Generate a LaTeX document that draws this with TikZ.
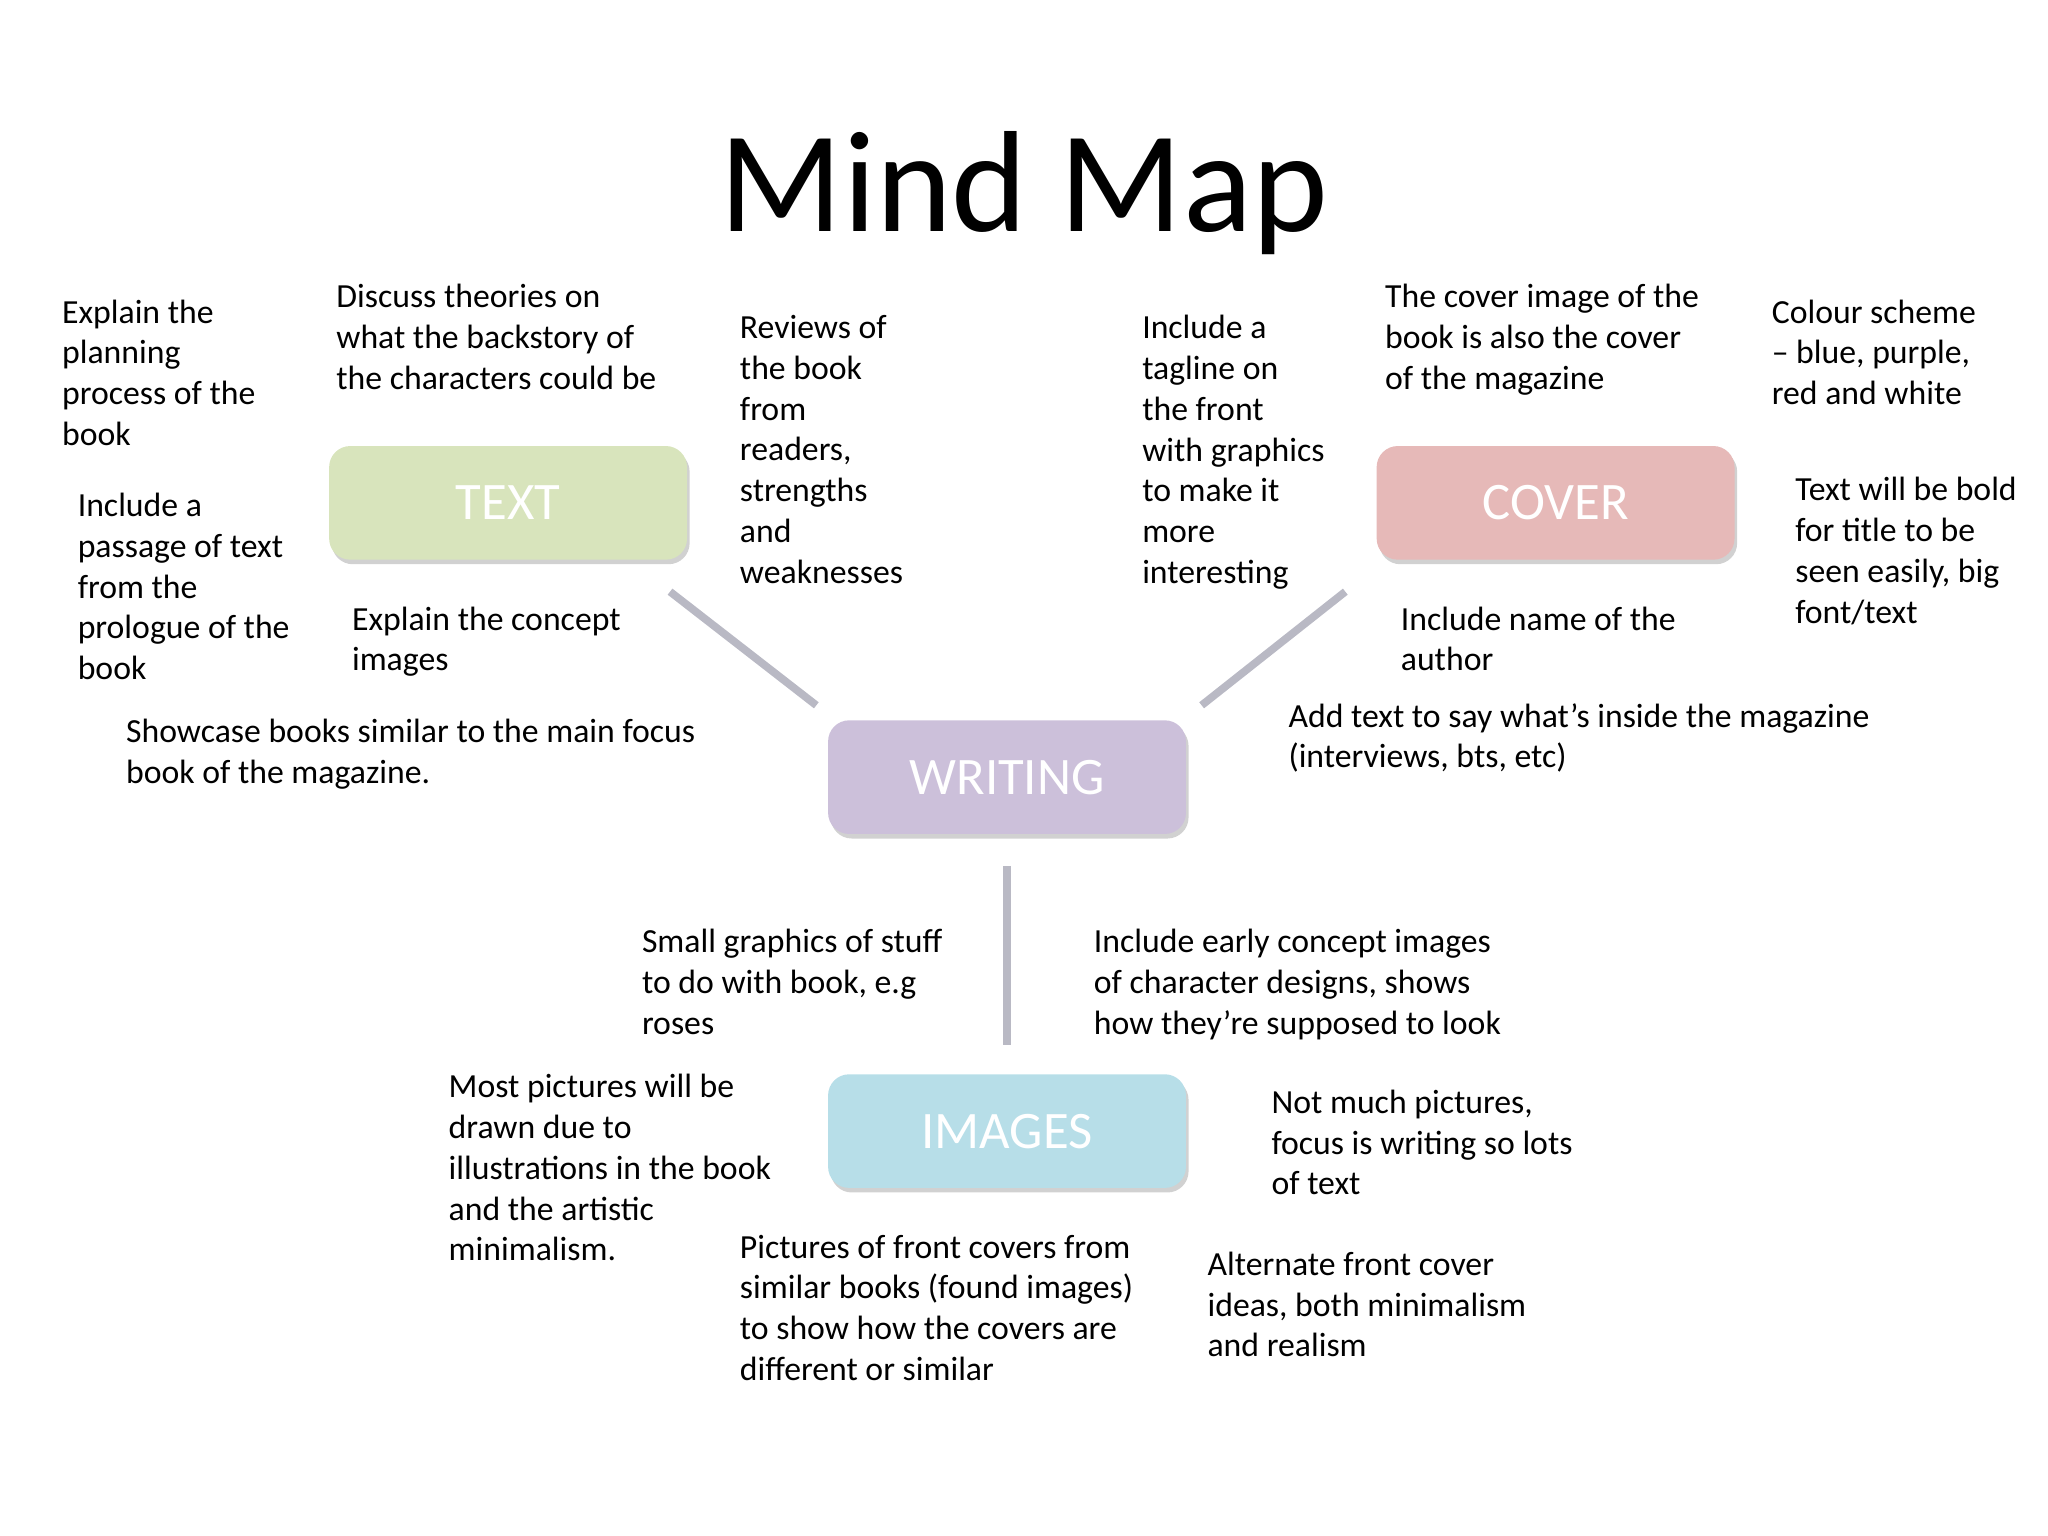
\documentclass[tikz,border=0pt]{standalone}
\usepackage{fontspec}
\setmainfont{Carlito}
\begin{document}
\begin{tikzpicture}[x=0.01306cm,y=-0.01306cm,
 t/.style={anchor=north west,inner sep=0pt,align=left,font=\fontsize{9.6pt}{11.6pt}\selectfont},
 box/.style={rounded corners=5pt,minimum width=274\pgflinewidth,text=white,font=\fontsize{15pt}{18pt}\selectfont,drop shadow},
 ln/.style={line width=2.2pt,draw=black!10!blue!10!gray!50}]
\useasboundingbox (0,0) rectangle (1568,1176);
\node[font=\fontsize{41pt}{48pt}\selectfont] (title) at (784,148) {Mind Map};
\foreach \n/\x/\y/\c/\s in {tb/389/385/D8E4BC/TEXT,cb/1191/385/E6B9B8/COVER,wb/771/595/CCC0DA/WRITING,ib/771/866/B7DEE8/IMAGES}{
 \definecolor{c\n}{HTML}{\c}
 \fill[black!18,rounded corners=6pt] (\x-135,\y-40) rectangle (\x+139,\y+47);
 \node[fill=c\n,rounded corners=6pt,minimum width=274*0.01306cm,minimum height=87*0.01306cm,text=white,font=\fontsize{15pt}{18pt}\selectfont,inner sep=0pt] (\n) at (\x,\y) {\s};
}
\coordinate (a1) at (513,453); \coordinate (a2) at (625,540);
\coordinate (b1) at (1030,453); \coordinate (b2) at (920,540);
\coordinate (c1) at (771,663); \coordinate (c2) at (771,800);
\draw[ln] (a1)--(a2); \draw[ln] (b1)--(b2); \draw[ln] (c1)--(c2);
\node[t] (n1) at (47,229) {Explain the\\planning\\process of the\\book};
\node[t] (n2) at (257,217) {Discuss theories on\\what the backstory of\\the characters could be};
\node[t] (n3) at (566,241) {Reviews of\\the book\\from\\readers,\\strengths\\and\\weaknesses};
\node[t] (n4) at (874,241) {Include a\\tagline on\\the front\\with graphics\\to make it\\more\\interesting};
\node[t] (n5) at (1060,217) {The cover image of the\\book is also the cover\\of the magazine};
\node[t] (n6) at (1356,229) {Colour scheme\\– blue, purple,\\red and white};
\node[t] (n7) at (59,377) {Include a\\passage of text\\from the\\prologue of the\\book};
\node[t] (n8) at (1374,365) {Text will be bold\\for title to be\\seen easily, big\\font/text};
\node[t] (n9) at (269,464) {Explain the concept\\images};
\node[t] (n10) at (1072,464) {Include name of the\\author};
\node[t] (n11) at (96,550) {Showcase books similar to the main focus\\book of the magazine.};
\node[t] (n12) at (986,538) {Add text to say what’s inside the magazine\\(interviews, bts, etc)};
\node[t] (n13) at (491,711) {Small graphics of stuff\\to do with book, e.g\\roses};
\node[t] (n14) at (837,711) {Include early concept images\\of character designs, shows\\how they’re supposed to look};
\node[t] (n15) at (343,822) {Most pictures will be\\drawn due to\\illustrations in the book\\and the artistic\\minimalism.};
\node[t] (n16) at (973,834) {Not much pictures,\\focus is writing so lots\\of text};
\node[t] (n17) at (566,945) {Pictures of front covers from\\similar books (found images)\\to show how the covers are\\different or similar};
\node[t] (n18) at (924,958) {Alternate front cover\\ideas, both minimalism\\and realism};
\end{tikzpicture}
\end{document}
